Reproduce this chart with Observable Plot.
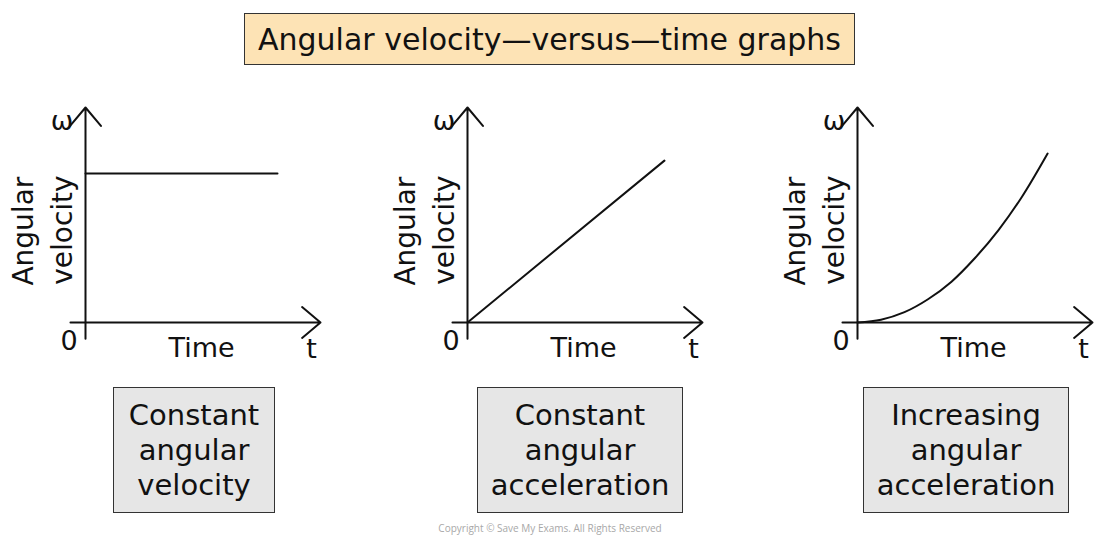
<!DOCTYPE html>
<html>
<head>
<meta charset="utf-8">
<script src="https://cdn.jsdelivr.net/npm/d3@7"></script>
<script src="https://cdn.jsdelivr.net/npm/@observablehq/plot@0.6"></script>
<style>
  html, body { margin: 0; padding: 0; background: #fff; }
  body { width: 1100px; height: 540px; position: relative; overflow: hidden; font-family: "DejaVu Sans", sans-serif; color: #111; }
  .header { position: absolute; left: 244px; top: 13px; width: 609px; height: 50px; background: #fde3b5; border: 1.5px solid #333; font-size: 30px; display: flex; align-items: center; justify-content: center; }
  .panel { position: absolute; top: 95px; }
  .box { position: absolute; top: 387px; height: 124px; background: #e6e6e6; border: 1.5px solid #333; font-size: 29px; line-height: 35px; text-align: center; display: flex; flex-direction: column; justify-content: center; }
  .copy { position: absolute; left: 0; width: 1100px; top: 521px; text-align: center; font-family: "Open Sans", sans-serif; font-size: 10px; color: #a8a8a8; }
</style>
</head>
<body>
<div class="header" id="title"></div>
<div id="panels"></div>
<div class="copy">Copyright © Save My Exams. All Rights Reserved</div>
<script>
// ---- data ----
const titleText = "Angular velocity\u2014versus\u2014time graphs";
const yLabelLines = ["Angular", "velocity"];
const xLabel = "Time";
const xSymbol = "t";
const ySymbol = "\u03c9";
const originLabel = "0";
const captions = [
  ["Constant", "angular", "velocity"],
  ["Constant", "angular", "acceleration"],
  ["Increasing", "angular", "acceleration"]
];
// series (time, angular velocity), normalised units
const constT = [0, 0.817];
const constW = [0.693, 0.693];
const linT = [0, 0.838];
const linW = [0, 0.753];
const curveT = [0, 0.1, 0.2, 0.3, 0.4, 0.5, 0.6, 0.7, 0.809];
const curveW = [0, 0.013, 0.048, 0.108, 0.19, 0.3, 0.43, 0.585, 0.786];

const series = [
  constT.map((t, i) => ({t, w: constW[i]})),
  linT.map((t, i) => ({t, w: linW[i]})),
  curveT.map((t, i) => ({t, w: curveW[i]}))
];

document.getElementById("title").textContent = titleText;

const panelLeft = [0, 382, 772];
const boxLeft = [113, 477, 863];
const boxWidth = [160, 204, 204];
const font = "DejaVu Sans, sans-serif";

series.forEach((data, k) => {
  const chart = Plot.plot({
    width: 328,
    height: 270,
    marginLeft: 85,
    marginRight: 8,
    marginTop: 12,
    marginBottom: 43,
    x: {domain: [0, 1], axis: null},
    y: {domain: [0, 1], axis: null},
    style: {fontFamily: font, overflow: "visible", background: "transparent"},
    marks: [
      Plot.arrow([{x1: -0.064, y1: 0, x2: 1, y2: 0}], {x1: "x1", y1: "y1", x2: "x2", y2: "y2", stroke: "#111", strokeWidth: 2, headLength: 18, headAngle: 80}),
      Plot.arrow([{x1: 0, y1: -0.075, x2: 0, y2: 1}], {x1: "x1", y1: "y1", x2: "x2", y2: "y2", stroke: "#111", strokeWidth: 2, headLength: 18, headAngle: 80}),
      Plot.line(data, {x: "t", y: "w", stroke: "#111", strokeWidth: 2, curve: k === 2 ? "catmull-rom" : "linear"}),
      Plot.text([ySymbol], {x: -0.1, y: 0.935, text: d => d, fontSize: 27, fill: "#111"}),
      Plot.text([originLabel], {x: -0.07, y: -0.09, text: d => d, fontSize: 27, fill: "#111"}),
      Plot.text([xLabel], {x: 0.494, y: -0.12, text: d => d, fontSize: 27, fill: "#111"}),
      Plot.text([xSymbol], {x: 0.962, y: -0.125, text: d => d, fontSize: 27, fill: "#111"}),
      Plot.text([yLabelLines[0]], {x: -0.262, y: 0.425, text: d => d, fontSize: 28, rotate: -90, fill: "#111"}),
      Plot.text([yLabelLines[1]], {x: -0.095, y: 0.43, text: d => d, fontSize: 28, rotate: -90, fill: "#111"})
    ]
  });
  const wrap = document.createElement("div");
  wrap.className = "panel";
  wrap.style.left = panelLeft[k] + "px";
  wrap.appendChild(chart);
  document.getElementById("panels").appendChild(wrap);

  const box = document.createElement("div");
  box.className = "box";
  box.style.left = boxLeft[k] + "px";
  box.style.width = boxWidth[k] + "px";
  captions[k].forEach(line => {
    const d = document.createElement("div");
    d.textContent = line;
    box.appendChild(d);
  });
  document.body.appendChild(box);
});
</script>
</body>
</html>
